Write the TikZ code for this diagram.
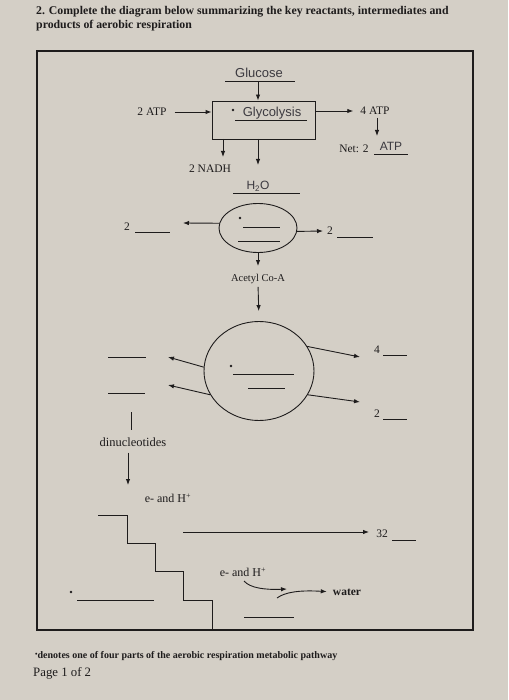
\documentclass[tikz,border=0pt]{standalone}
\usepackage{fontspec}
\setmainfont{Liberation Serif}
\newfontfamily\handfont{Liberation Sans}
\usetikzlibrary{arrows.meta,shapes.geometric}
\definecolor{paper}{RGB}{212,207,198}
\definecolor{ink}{RGB}{30,28,28}
\definecolor{pen}{RGB}{60,58,64}
\tikzset{
  lbl/.style={text=ink, inner sep=0pt, font=\fontsize{11.5}{13}\selectfont},
  hand/.style={text=pen, inner sep=0pt, font=\handfont\fontsize{12}{14}\selectfont},
  arr/.style={draw=ink, line width=0.9pt, -{Latex[length=6pt,width=4.5pt]}},
  ln/.style={draw=ink, line width=0.9pt},
  blank/.style={draw=ink, line width=0.75pt},
  ring/.style={draw=ink, line width=0.9pt, ellipse, inner sep=0pt},
  bul/.style={fill=ink, circle, inner sep=0pt, minimum size=2.6pt},
}
\begin{document}
\begin{tikzpicture}[x=1pt,y=-1pt]
\fill[paper] (0,0) rectangle (508,700);
\useasboundingbox (0,0) rectangle (508,700);

% heading
\node[anchor=base west, text=ink, inner sep=0pt, font=\bfseries\fontsize{11.8}{14}\selectfont] (title1) at (36,15) {2. Complete the diagram below summarizing the key reactants, intermediates and};
\node[anchor=base west, text=ink, inner sep=0pt, font=\bfseries\fontsize{11.8}{14}\selectfont] (title2) at (36,29) {products of aerobic respiration};

% frame
\draw[ln, line width=1.4pt] (37,51) rectangle (473,630);

% glucose / glycolysis
\node[hand, font=\handfont\fontsize{13}{15}\selectfont] (glucose) at (259,73) {Glucose};
\draw[blank] (225,81) -- (295,81);
\node[draw=ink, line width=0.9pt, minimum width=103pt, minimum height=38pt, inner sep=0pt] (glyc) at (263.5,120) {};
\coordinate (glucU) at (258,82);
\draw[arr] (glucU) -- (glucU |- glyc.north);
\node[bul] (dotG) at (233,110) {};
\node[hand, font=\handfont\fontsize{13}{15}\selectfont] (glycT) at (272,113) {Glycolysis};
\draw[blank] (235,120) -- (307,120);

\node[lbl] (atp2) at (152,112) {2 ATP};
\draw[arr, shorten <=8pt] (atp2.east) -- (atp2.east -| glyc.west);
\node[lbl] (atp4) at (375,111) {4 ATP};
\draw[arr, shorten >=7pt] (glyc.east |- atp4.west) -- (atp4.west);
\coordinate (atp4d) at (377,118);
\coordinate (netTop) at (377,136);
\draw[arr] (atp4d) -- (netTop);
\node[lbl] (net) at (354,149) {Net: 2};
\node[hand, font=\handfont\fontsize{12}{14}\selectfont] (atpH) at (391,146) {ATP};
\draw[blank] (374,154) -- (408,154);

% outputs of glycolysis
\coordinate (nadhTop) at (223,139);
\coordinate (nadhEnd) at (223,157);
\draw[arr] (nadhTop) -- (nadhEnd);
\node[lbl] (nadh) at (210,169) {2 NADH};
\coordinate (h2oTop) at (258,139);
\coordinate (h2oEnd) at (258,165);
\draw[arr] (h2oTop) -- (h2oEnd);
\node[hand] (h2o) at (258,186) {H\textsubscript{2}O};
\draw[blank] (233,193) -- (300,193);

% ellipse 1 (pyruvate oxidation)
\node[ring, minimum width=78pt, minimum height=49pt] (ell1) at (258,228) {};
\node[bul] (dot1) at (240,218) {};
\draw[blank] (243,227) -- (280,227);
\draw[blank] (238,241) -- (280,241);
\coordinate (e1L) at (183,223);
\draw[arr] (ell1.173) -- (e1L);
\node[lbl] (two1) at (127,227) {2};
\draw[blank] (135,232) -- (170,232);
\coordinate (e1R) at (323,231);
\draw[arr] (ell1.-5) -- (e1R);
\node[lbl] (two2) at (330,231) {2};
\draw[blank] (337,237) -- (373,237);

\node[lbl, font=\fontsize{10.5}{12}\selectfont] (acetyl) at (258,279) {Acetyl Co-A};
\draw[arr, shorten >=8pt] (ell1.south) -- (acetyl.north);

% circle 2 (Krebs cycle)
\node[ring, minimum width=110pt, minimum height=99pt] (ell2) at (259,371) {};
\draw[arr, shorten <=3pt, shorten >=10pt] (acetyl.south) -- (ell2.north);
\node[bul] (dot2) at (231,366) {};
\draw[blank] (233,374) -- (294,374);
\draw[blank] (248,388) -- (285,388);

\coordinate (k1) at (168,357);
\coordinate (k2) at (168,385);
\coordinate (k3) at (360,357);
\coordinate (k4) at (360,402);
\draw[arr] (ell2.176) -- (k1);
\draw[arr] (ell2.206) -- (k2);
\draw[arr] (ell2.27) -- (k3);
\draw[arr] (ell2.-26) -- (k4);
\draw[blank] (108,357) -- (146,357);
\draw[blank] (108,393) -- (145,393);
\node[lbl] (four) at (377,350) {4};
\draw[blank] (383,355) -- (407,355);
\node[lbl] (two3) at (377,414) {2};
\draw[blank] (383,419) -- (407,419);

% dinucleotides
\coordinate (tickT) at (131,412);
\coordinate (tickB) at (131,430);
\draw[ln] (tickT) -- (tickB);
\node[lbl, font=\fontsize{12.5}{14}\selectfont] (dinuc) at (133,442) {dinucleotides};
\coordinate (dArr) at (128,485);
\draw[arr, shorten <=6pt] (dinuc.south -| dArr) -- (dArr);
\node[lbl, font=\fontsize{12}{14}\selectfont] (eh1) at (168,498) {e- and H\textsuperscript{+}};

% electron transport staircase
\draw[ln] (98,515) -- (127,515) -- (127,543) -- (155,543) -- (155,571) -- (183,571) -- (183,600) -- (212,600) -- (212,630);
\coordinate (etcS) at (183,532);
\node[lbl] (n32) at (382,534) {32};
\draw[arr, shorten >=7pt] (etcS) -- (etcS -| n32.west);
\draw[blank] (392,540) -- (416,540);

\node[lbl, font=\fontsize{12}{14}\selectfont] (eh2) at (243,572) {e- and H\textsuperscript{+}};
\coordinate (c1s) at (244,581);
\coordinate (c1e) at (287,589);
\draw[arr] (c1s) .. controls (250,588) and (265,590) .. (c1e);
\node[lbl, font=\bfseries\fontsize{11.5}{13}\selectfont] (water) at (347,592) {water};
\coordinate (c2s) at (277,598);
\draw[arr, shorten >=6pt] (c2s) .. controls (285,592) and (300,590) .. (water.west);
\draw[blank] (244,617) -- (294,617);

\node[bul] (dot3) at (71,592) {};
\draw[blank] (77,600) -- (154,600);

% footer
\node[anchor=base west, text=ink, inner sep=0pt, font=\bfseries\fontsize{10}{12}\selectfont] (foot) at (35,658) {\raisebox{2pt}{\scriptsize•}denotes one of four parts of the aerobic respiration metabolic pathway};
\node[anchor=base west, text=ink, inner sep=0pt, font=\fontsize{12.8}{14}\selectfont] (page) at (33,676) {Page 1 of 2};
\end{tikzpicture}
\end{document}
